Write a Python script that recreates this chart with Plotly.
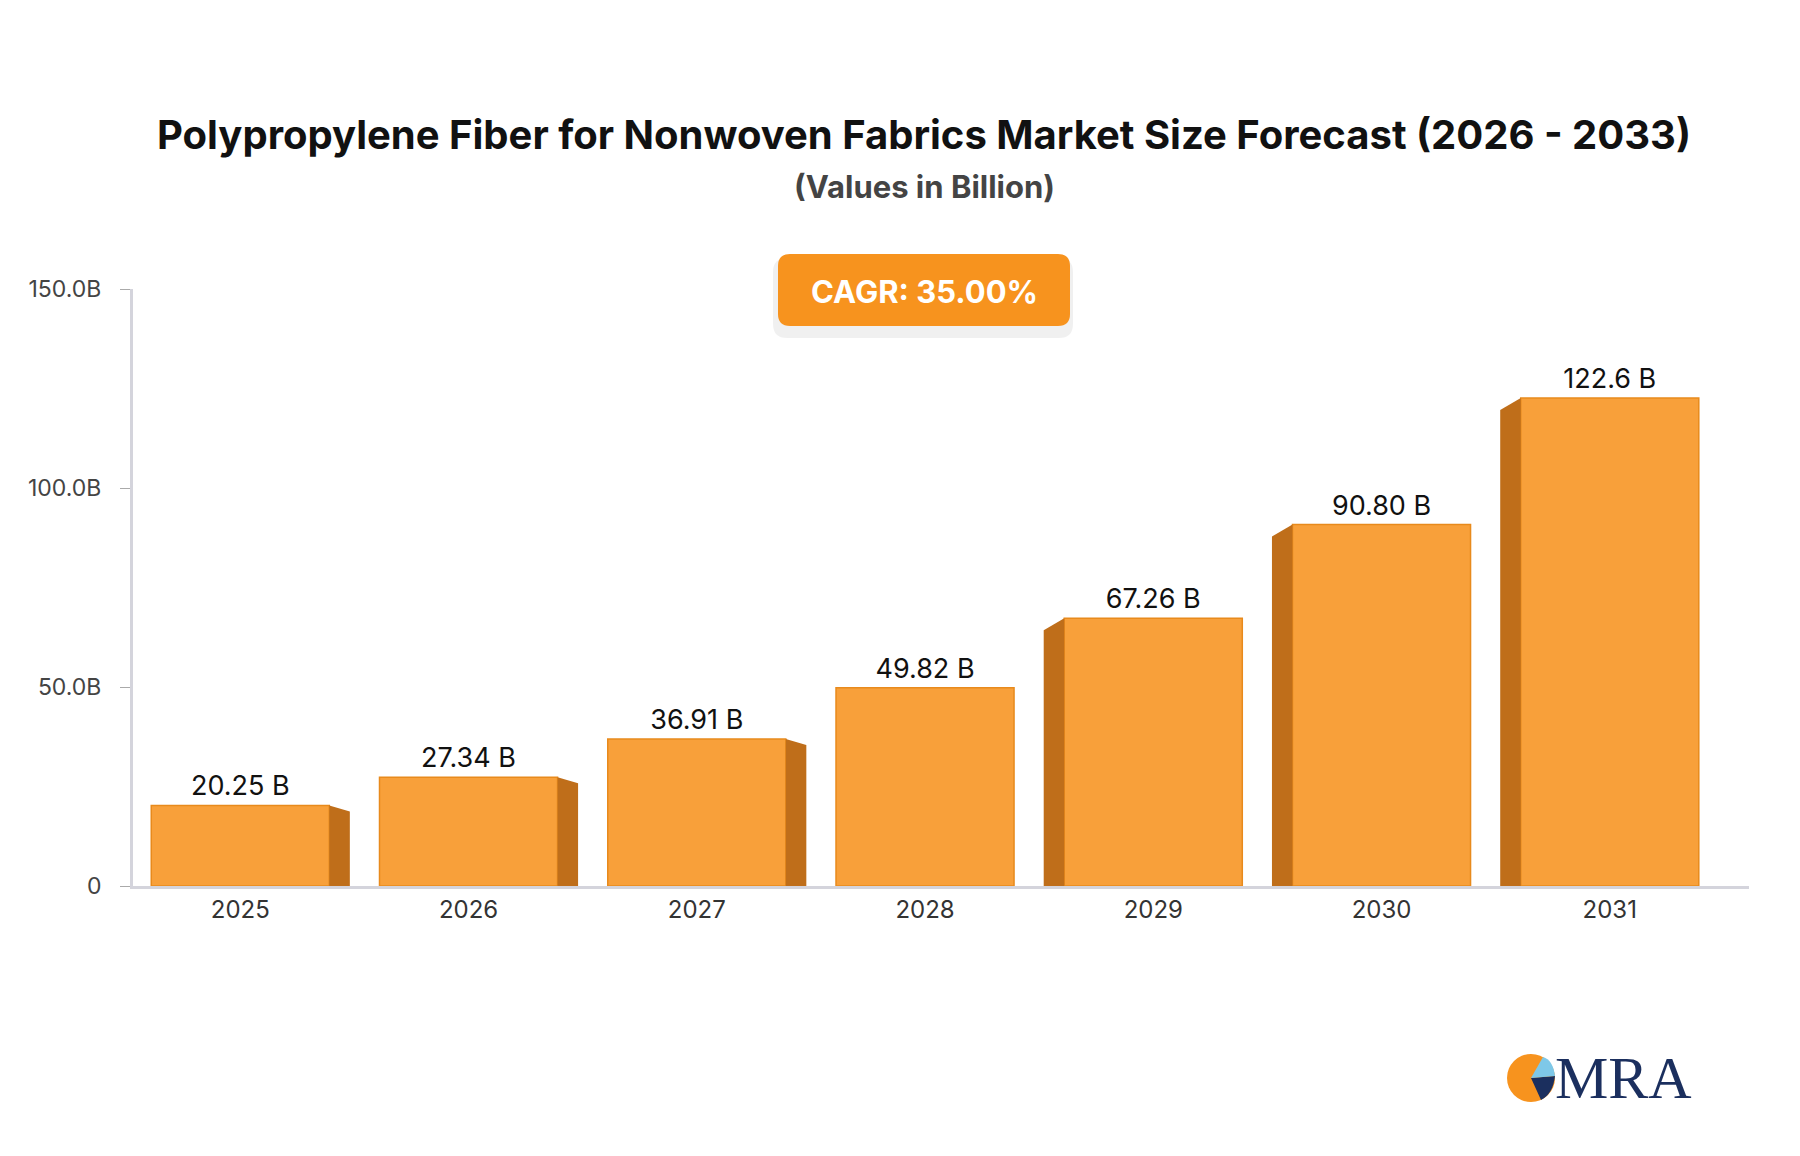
import plotly.graph_objects as go

years = ["2025", "2026", "2027", "2028", "2029", "2030", "2031"]
values = [20.25, 27.34, 36.91, 49.82, 67.26, 90.80, 122.6]
labels = ["20.25 B", "27.34 B", "36.91 B", "49.82 B", "67.26 B", "90.80 B", "122.6 B"]
yticks = [0, 50, 100, 150]
yticklabels = ["0", "50.0B", "100.0B", "150.0B"]

L, R, T, B = 125, 59, 281, 278
pw, ph = 1800 - L - R, 1156 - T - B
def px(x): return (x - L) / pw
def py(y): return 1 - (y - T) / ph

xs = list(range(len(years)))
W = 0.78
fig = go.Figure()
fig.add_trace(go.Bar(x=xs, y=values, width=W, marker=dict(color="#F8A03A", line=dict(color="#E88A1C", width=1.5)),
                     text=labels, textposition="outside", textfont=dict(size=27, color="#111", family="Inter"),
                     cliponaxis=False, hoverinfo="skip"))

shapes = []
side_w = 0.09
for i, v in enumerate(values):
    if i == 3:
        continue
    if i < 3:
        x0 = i + W / 2; x1 = x0 + side_w
    else:
        x0 = i - W / 2; x1 = x0 - side_w
    dy = 1.5 if i < 3 else 3
    path = f"M {x0},0 L {x0},{v} L {x1},{v-dy} L {x1},0 Z"
    shapes.append(dict(type="path", path=path, xref="x", yref="y", fillcolor="#BF6E1A", line=dict(width=0), layer="above"))

def rrect(x0, y0, x1, y1, r):
    return (f"M {px(x0+r)},{py(y0)} L {px(x1-r)},{py(y0)} Q {px(x1)},{py(y0)} {px(x1)},{py(y0+r)} "
            f"L {px(x1)},{py(y1-r)} Q {px(x1)},{py(y1)} {px(x1-r)},{py(y1)} L {px(x0+r)},{py(y1)} "
            f"Q {px(x0)},{py(y1)} {px(x0)},{py(y1-r)} L {px(x0)},{py(y0+r)} Q {px(x0)},{py(y0)} {px(x0+r)},{py(y0)} Z")

shapes.append(dict(type="path", xref="paper", yref="paper", path=rrect(765, 250, 1065, 330, 14),
                   fillcolor="rgba(0,0,0,0.06)", line=dict(width=0)))
shapes.append(dict(type="path", xref="paper", yref="paper", path=rrect(770, 246, 1062, 318, 12),
                   fillcolor="#F7931E", line=dict(width=0)))
cx, cy, r = 1523, 1070, 24
shapes.append(dict(type="circle", xref="paper", yref="paper", x0=px(cx-r), x1=px(cx+r), y0=py(cy+r), y1=py(cy-r),
                   fillcolor="#F7931E", line=dict(width=0)))
shapes.append(dict(type="path", xref="paper", yref="paper",
                   path=f"M {px(cx)},{py(cy)} L {px(cx+r)},{py(cy-2)} Q {px(cx+r-2)},{py(cy+16)} {px(cx+10)},{py(cy+22)} Z",
                   fillcolor="#1B2F5E", line=dict(width=0)))
shapes.append(dict(type="path", xref="paper", yref="paper",
                   path=f"M {px(cx)},{py(cy)} L {px(cx+r)},{py(cy-2)} Q {px(cx+r-2)},{py(cy-18)} {px(cx+12)},{py(cy-21)} Z",
                   fillcolor="#7EC8E8", line=dict(width=0)))

annotations = [
    dict(text="<b>Polypropylene Fiber for Nonwoven Fabrics Market Size Forecast (2026 - 2033)</b>", x=916, y=126,
         font=dict(size=40, family="Inter", color="#111")),
    dict(text="<b>(Values in Billion)</b>", x=916, y=178, font=dict(size=31, family="Inter", color="#444")),
    dict(text="<b>CAGR: 35.00%</b>", x=916, y=283, font=dict(size=31, family="Inter", color="white")),
    dict(text="MRA", x=1615, y=1070, font=dict(size=60, family="Liberation Serif", color="#1B2F5E")),
]
for a in annotations:
    a.update(xref="paper", yref="paper", showarrow=False, xanchor="center", yanchor="middle",
             x=px(a["x"]), y=py(a["y"]))

fig.update_layout(
    width=1800, height=1156, margin=dict(l=L, r=R, t=T, b=B),
    paper_bgcolor="white", plot_bgcolor="white", showlegend=False,
    shapes=shapes, annotations=annotations, font=dict(family="Inter"),
    xaxis=dict(range=[-0.47, 6.61], tickvals=xs, ticktext=years, showgrid=False, zeroline=False,
               showline=True, linecolor="#d4d4dc", linewidth=3, ticks="", tickfont=dict(size=24, color="#333")),
    yaxis=dict(range=[0, 150], tickvals=yticks, ticktext=yticklabels, showgrid=False, zeroline=False,
               showline=True, linecolor="#d4d4dc", linewidth=3, ticks="outside", ticklen=10, tickcolor="#aaa",
               ticklabelstandoff=14, tickfont=dict(size=23, color="#444")),
)
fig.write_html("out.html")
